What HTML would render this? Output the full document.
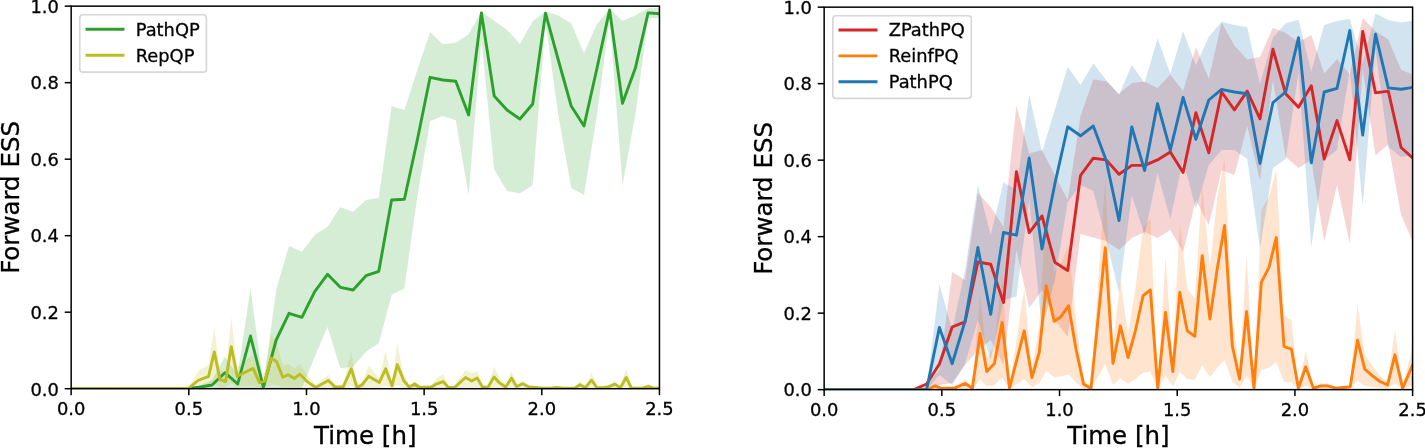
<!DOCTYPE html>
<html lang="en">
<head>
<meta charset="utf-8">
<title>Forward ESS vs. Time</title>
<style>
html,body{margin:0;padding:0;background:#fff;}
body{width:1425px;height:448px;overflow:hidden;}
svg{display:block;}
svg text{stroke:#000;stroke-width:0.3px;}
</style>
</head>
<body>
<svg width="1425" height="448" viewBox="0 0 1425 448" font-family='"DejaVu Sans", "Liberation Sans", sans-serif' fill="#000">
<defs>
<clipPath id="cl"><rect x="71.15" y="6.15" width="588.30" height="382.55"/></clipPath>
<clipPath id="cr"><rect x="824.15" y="7.15" width="588.45" height="382.50"/></clipPath>
</defs>
<rect width="1425" height="448" fill="#fff"/>
<g>
<polygon points="186.4,388.6 199.2,386.0 212.1,380.0 224.9,356.7 237.7,375.0 250.5,288.3 263.4,385.0 276.2,290.0 289.0,246.0 301.9,251.7 314.7,235.0 327.5,226.7 340.3,207.3 353.1,211.7 366.0,200.0 378.8,197.7 391.6,106.0 404.4,110.0 417.3,70.0 430.1,32.3 442.9,44.3 455.8,42.7 468.6,34.3 481.4,11.7 494.2,20.7 507.0,30.0 519.9,44.0 532.7,21.3 545.5,11.4 558.3,15.6 571.2,23.2 584.0,53.3 596.8,24.3 609.6,9.2 622.5,20.7 635.3,15.5 648.1,8.3 660.9,8.3 660.9,18.0 648.1,18.3 635.3,115.0 622.5,185.0 609.6,19.4 596.8,115.7 584.0,195.0 571.2,188.0 558.3,115.0 545.5,22.0 532.7,185.0 519.9,193.3 507.0,191.0 494.2,169.3 481.4,39.0 468.6,195.0 455.8,120.2 442.9,115.9 430.1,121.0 417.3,196.7 404.4,288.3 391.6,295.0 378.8,343.3 366.0,351.7 353.1,366.7 340.3,368.3 327.5,326.7 314.7,356.7 301.9,388.6 289.0,388.6 276.2,388.6 263.4,388.6 250.5,388.6 237.7,388.6 224.9,388.6 212.1,388.6 199.2,388.6 186.4,388.6" fill="#2ca02c" fill-opacity="0.2" clip-path="url(#cl)"/>
<polygon points="188.5,387.7 198.0,371.4 208.6,365.0 214.3,326.4 219.9,370.3 225.6,372.4 231.3,317.3 237.2,367.8 253.1,354.5 259.5,376.7 264.8,372.4 271.2,334.3 276.5,342.6 282.8,366.1 288.1,364.0 294.5,368.2 299.8,364.2 307.2,374.6 315.7,385.2 328.4,374.6 334.8,385.2 343.2,384.1 351.3,352.3 357.0,385.2 362.3,380.9 368.7,366.1 379.3,377.7 385.6,350.2 392.0,383.0 397.3,343.8 403.7,374.6 409.0,385.2 414.3,382.0 420.0,386.2 414.5,380.7 419.8,386.5 431.5,385.0 436.8,377.9 443.1,374.3 448.5,385.9 454.7,385.4 465.5,370.0 471.7,373.4 477.1,370.7 482.5,385.0 487.8,385.9 494.1,366.2 499.5,377.9 505.7,385.0 511.5,370.9 516.5,384.1 522.7,380.6 529.0,385.4 535.3,385.9 542.4,387.2 551.4,387.7 556.7,386.2 562.1,387.7 574.6,387.2 580.0,381.5 585.4,386.5 591.6,372.5 597.0,386.5 603.3,386.2 608.6,385.0 614.9,380.6 620.3,386.5 626.2,368.6 631.5,387.2 642.6,387.2 648.5,384.1 654.3,387.2 659.3,387.2 659.3,388.2 654.3,388.3 648.5,388.0 642.6,388.2 631.5,388.2 626.2,387.0 620.3,388.2 614.9,387.8 608.6,388.1 603.3,388.2 597.0,388.2 591.6,387.3 585.4,388.2 580.0,387.8 574.6,388.3 562.1,388.3 556.7,388.2 551.4,388.3 542.4,388.3 535.3,388.2 529.0,388.1 522.7,387.7 516.5,388.0 511.5,387.0 505.7,388.1 499.5,387.6 494.1,386.9 487.8,388.2 482.5,388.1 477.1,387.0 471.7,387.4 465.5,387.0 454.7,388.2 448.5,388.2 443.1,387.5 436.8,387.7 431.5,388.1 419.8,388.2 414.5,387.7 420.0,388.2 414.3,387.9 409.0,388.2 403.7,387.4 397.3,385.5 392.0,388.0 385.6,386.0 379.3,387.7 368.7,386.9 362.3,387.9 357.0,388.2 351.3,386.0 343.2,388.2 334.8,388.2 328.4,387.4 315.7,388.2 307.2,387.5 299.8,386.6 294.5,387.1 288.1,386.7 282.8,387.0 276.5,385.1 271.2,384.7 264.8,387.5 259.5,387.7 253.1,386.0 237.2,386.9 231.3,383.3 225.6,387.5 219.9,387.3 214.3,384.0 208.6,386.9 198.0,387.4 188.5,388.3" fill="#bcbd22" fill-opacity="0.2" clip-path="url(#cl)"/>
<polyline points="71.0,388.6 186.4,388.6 199.2,387.3 212.1,385.0 224.9,372.7 237.7,384.0 250.5,336.0 263.4,387.3 276.2,340.0 289.0,313.3 301.9,317.3 314.7,291.7 327.5,274.3 340.3,287.3 353.1,290.0 366.0,275.7 378.8,271.3 391.6,200.0 404.4,199.3 417.3,140.0 430.1,77.3 442.9,80.0 455.8,81.3 468.6,115.0 481.4,13.0 494.2,96.0 507.0,110.0 519.9,119.0 532.7,104.0 545.5,13.1 558.3,60.0 571.2,106.0 584.0,126.0 596.8,69.0 609.6,9.9 622.5,103.3 635.3,68.3 648.1,12.9 660.9,13.8" fill="none" stroke="#2ca02c" stroke-width="2.9" stroke-linejoin="round" stroke-linecap="square" clip-path="url(#cl)"/>
<polyline points="71.0,388.6 188.5,388.3 198.0,380.5 208.6,376.3 214.3,351.9 219.9,379.4 225.6,381.6 231.3,346.6 237.2,376.3 253.1,368.4 259.5,382.6 264.8,381.1 271.2,358.2 276.5,361.4 282.8,377.3 288.1,374.8 294.5,378.4 299.8,374.1 307.2,381.6 315.7,387.5 328.4,380.5 334.8,386.9 343.2,386.9 351.3,368.8 357.0,387.5 362.3,384.7 368.7,376.3 379.3,382.6 385.6,368.8 392.0,385.8 397.3,364.6 403.7,380.5 409.0,386.9 414.3,384.7 420.0,387.5 414.5,383.8 419.8,387.4 431.5,387.0 436.8,383.8 443.1,381.6 448.5,387.4 454.7,387.4 465.5,377.5 471.7,381.1 477.1,378.1 482.5,387.0 487.8,387.4 494.1,377.0 499.5,382.9 505.7,387.0 511.5,378.1 516.5,386.5 522.7,383.8 529.0,387.0 535.3,387.4 542.4,388.3 551.4,388.3 556.7,387.4 562.1,388.3 574.6,388.3 580.0,384.7 585.4,387.7 591.6,380.2 597.0,387.7 603.3,387.4 608.6,387.0 614.9,384.1 620.3,387.7 626.2,377.5 631.5,388.1 642.6,388.1 648.5,386.3 654.3,388.3 659.3,388.1" fill="none" stroke="#bcbd22" stroke-width="2.9" stroke-linejoin="round" stroke-linecap="square" clip-path="url(#cl)"/>
<line x1="71.15" y1="388.70" x2="71.15" y2="395.15" stroke="#000" stroke-width="1.5"/>
<text x="71.15" y="414.55" font-size="17.9" text-anchor="middle">0.0</text>
<line x1="188.81" y1="388.70" x2="188.81" y2="395.15" stroke="#000" stroke-width="1.5"/>
<text x="188.81" y="414.55" font-size="17.9" text-anchor="middle">0.5</text>
<line x1="306.47" y1="388.70" x2="306.47" y2="395.15" stroke="#000" stroke-width="1.5"/>
<text x="306.47" y="414.55" font-size="17.9" text-anchor="middle">1.0</text>
<line x1="424.13" y1="388.70" x2="424.13" y2="395.15" stroke="#000" stroke-width="1.5"/>
<text x="424.13" y="414.55" font-size="17.9" text-anchor="middle">1.5</text>
<line x1="541.79" y1="388.70" x2="541.79" y2="395.15" stroke="#000" stroke-width="1.5"/>
<text x="541.79" y="414.55" font-size="17.9" text-anchor="middle">2.0</text>
<line x1="659.45" y1="388.70" x2="659.45" y2="395.15" stroke="#000" stroke-width="1.5"/>
<text x="659.45" y="414.55" font-size="17.9" text-anchor="middle">2.5</text>
<line x1="64.70" y1="388.70" x2="71.15" y2="388.70" stroke="#000" stroke-width="1.5"/>
<text x="58.85" y="395.50" font-size="17.9" text-anchor="end">0.0</text>
<line x1="64.70" y1="312.19" x2="71.15" y2="312.19" stroke="#000" stroke-width="1.5"/>
<text x="58.85" y="318.99" font-size="17.9" text-anchor="end">0.2</text>
<line x1="64.70" y1="235.68" x2="71.15" y2="235.68" stroke="#000" stroke-width="1.5"/>
<text x="58.85" y="242.48" font-size="17.9" text-anchor="end">0.4</text>
<line x1="64.70" y1="159.17" x2="71.15" y2="159.17" stroke="#000" stroke-width="1.5"/>
<text x="58.85" y="165.97" font-size="17.9" text-anchor="end">0.6</text>
<line x1="64.70" y1="82.66" x2="71.15" y2="82.66" stroke="#000" stroke-width="1.5"/>
<text x="58.85" y="89.46" font-size="17.9" text-anchor="end">0.8</text>
<line x1="64.70" y1="6.15" x2="71.15" y2="6.15" stroke="#000" stroke-width="1.5"/>
<text x="58.85" y="12.95" font-size="17.9" text-anchor="end">1.0</text>
<rect x="71.15" y="6.15" width="588.30" height="382.55" fill="none" stroke="#000" stroke-width="1.5"/>
<text x="365.30" y="443.50" font-size="24.5" text-anchor="middle">Time [h]</text>
<text transform="translate(19.30,197.42) rotate(-90)" font-size="24.5" text-anchor="middle">Forward ESS</text>
<rect x="79.80" y="14.80" width="126.60" height="57.30" rx="3.2" ry="3.2" fill="#fff" fill-opacity="0.8" stroke="#ccc" stroke-opacity="0.8" stroke-width="1.6"/>
<line x1="87.00" y1="29.20" x2="123.00" y2="29.20" stroke="#2ca02c" stroke-width="2.9" stroke-linecap="square"/>
<text x="135.70" y="35.60" font-size="17.85">PathQP</text>
<line x1="87.00" y1="55.30" x2="123.00" y2="55.30" stroke="#bcbd22" stroke-width="2.9" stroke-linecap="square"/>
<text x="135.70" y="61.70" font-size="17.85">RepQP</text>
</g>
<g>
<polygon points="913.8,389.6 926.6,384.0 939.4,370.0 952.2,272.0 965.1,280.0 977.9,193.0 990.7,207.0 1003.5,227.0 1016.4,105.4 1029.2,153.4 1042.0,150.0 1054.8,175.0 1067.7,200.0 1080.5,116.0 1093.3,79.5 1106.2,81.3 1119.0,93.8 1131.8,83.0 1144.6,81.5 1157.5,88.0 1170.3,74.5 1183.1,91.0 1195.9,46.9 1208.8,78.7 1221.6,22.5 1234.4,45.6 1247.2,59.4 1260.0,56.9 1272.9,27.7 1285.7,33.1 1298.5,42.0 1311.3,34.9 1324.2,73.4 1337.0,59.0 1349.8,74.3 1362.7,17.9 1375.5,31.3 1388.3,39.4 1401.1,69.8 1413.9,75.2 1413.9,244.0 1401.1,215.0 1388.3,144.2 1375.5,155.6 1362.7,70.0 1349.8,243.4 1337.0,185.0 1324.2,241.5 1311.3,160.0 1298.5,168.0 1285.7,157.0 1272.9,80.4 1260.0,180.4 1247.2,126.0 1234.4,175.0 1221.6,170.0 1208.8,225.0 1195.9,200.0 1183.1,252.0 1170.3,230.0 1157.5,238.0 1144.6,232.0 1131.8,238.0 1119.0,250.0 1106.2,241.0 1093.3,237.6 1080.5,234.0 1067.7,336.8 1054.8,320.0 1042.0,290.0 1029.2,308.0 1016.4,250.0 1003.5,365.0 990.7,340.0 977.9,350.0 965.1,365.0 952.2,383.0 939.4,385.0 926.6,388.0 913.8,389.6" fill="#d62728" fill-opacity="0.2" clip-path="url(#cr)"/>
<polygon points="928.0,389.5 935.0,383.2 941.7,387.8 955.0,386.6 965.1,379.2 972.4,387.2 980.1,293.0 986.8,358.5 994.4,344.7 1002.1,274.0 1009.5,387.2 1024.2,288.4 1031.9,368.8 1039.2,325.7 1046.2,213.1 1054.2,272.3 1060.9,264.3 1068.6,245.3 1076.3,322.9 1083.6,380.3 1091.0,387.2 1105.3,178.8 1113.0,344.7 1120.4,279.8 1128.0,334.4 1135.4,288.4 1143.1,228.1 1150.4,218.3 1157.8,387.2 1165.5,256.8 1172.8,358.5 1179.8,222.3 1187.2,288.4 1194.8,298.2 1202.2,186.0 1209.9,268.3 1217.2,198.0 1224.6,159.0 1232.3,314.2 1239.6,371.7 1246.6,255.1 1254.0,387.2 1261.3,210.1 1269.0,196.5 1276.3,169.8 1284.0,315.4 1291.4,320.0 1298.4,387.2 1305.7,350.4 1313.4,387.2 1320.8,383.2 1327.4,383.2 1335.8,387.2 1343.1,386.1 1350.2,384.9 1357.5,304.5 1364.8,354.5 1372.5,366.0 1379.9,375.7 1387.6,381.5 1394.9,329.8 1402.6,387.2 1412.9,345.8 1412.9,385.0 1402.6,389.3 1394.9,383.3 1387.6,388.7 1379.9,388.1 1372.5,387.1 1364.8,385.9 1357.5,380.7 1350.2,389.1 1343.1,389.2 1335.8,389.3 1327.4,388.9 1320.8,388.9 1313.4,389.3 1305.7,385.5 1298.4,389.3 1291.4,382.3 1284.0,381.8 1276.3,362.2 1269.0,367.6 1261.3,370.3 1254.0,389.3 1246.6,375.5 1239.6,387.7 1232.3,381.7 1224.6,360.1 1217.2,367.9 1209.9,376.9 1202.2,365.5 1194.8,380.0 1187.2,379.0 1179.8,372.1 1172.8,386.3 1165.5,375.7 1157.8,389.3 1150.4,371.7 1143.1,372.7 1135.4,379.0 1128.0,383.8 1120.4,378.1 1113.0,384.9 1105.3,364.0 1091.0,389.3 1083.6,388.6 1076.3,382.6 1068.6,374.5 1060.9,376.5 1054.2,377.3 1046.2,370.9 1039.2,382.9 1031.9,387.4 1024.2,379.0 1009.5,389.3 1002.1,377.5 994.4,384.9 986.8,386.3 980.1,379.5 972.4,389.3 965.1,388.5 955.0,389.3 941.7,389.4 935.0,388.9 928.0,389.6" fill="#ff7f0e" fill-opacity="0.2" clip-path="url(#cr)"/>
<polygon points="926.6,389.6 939.4,284.0 952.2,330.0 965.1,270.0 977.9,184.9 990.7,235.0 1003.5,182.2 1016.4,190.0 1029.2,94.7 1042.0,152.0 1054.8,110.0 1067.7,66.8 1080.5,85.0 1093.3,63.5 1106.2,80.0 1119.0,95.0 1131.8,65.0 1144.6,83.0 1157.5,38.5 1170.3,73.4 1183.1,31.3 1195.9,65.3 1208.8,36.7 1221.6,21.8 1234.4,25.0 1247.2,27.2 1260.0,84.0 1272.9,37.6 1285.7,23.3 1298.5,19.7 1311.3,71.6 1324.2,25.0 1337.0,21.1 1349.8,18.8 1362.7,63.0 1375.5,13.4 1388.3,20.0 1401.1,22.4 1413.9,20.6 1413.9,155.0 1401.1,157.0 1388.3,147.0 1375.5,50.0 1362.7,206.0 1349.8,70.0 1337.0,150.0 1324.2,160.0 1311.3,247.0 1298.5,73.0 1285.7,159.0 1272.9,168.0 1260.0,248.5 1247.2,159.0 1234.4,150.0 1221.6,150.0 1208.8,165.0 1195.9,209.0 1183.1,160.0 1170.3,218.9 1157.5,173.0 1144.6,235.0 1131.8,195.6 1119.0,293.0 1106.2,240.0 1093.3,191.0 1080.5,185.0 1067.7,202.0 1054.8,280.0 1042.0,330.0 1029.2,200.0 1016.4,296.4 1003.5,300.0 990.7,360.0 977.9,320.0 965.1,363.5 952.2,385.0 939.4,375.0 926.6,389.6" fill="#1f77b4" fill-opacity="0.2" clip-path="url(#cr)"/>
<polyline points="824.0,389.6 913.8,389.6 926.6,384.0 939.4,364.0 952.2,327.0 965.1,321.8 977.9,262.0 990.7,264.2 1003.5,302.6 1016.4,171.6 1029.2,232.6 1042.0,216.0 1054.8,262.2 1067.7,270.5 1080.5,175.5 1093.3,158.2 1106.2,159.9 1119.0,174.3 1131.8,165.4 1144.6,165.4 1157.5,159.9 1170.3,152.0 1183.1,172.4 1195.9,112.6 1208.8,152.8 1221.6,92.0 1234.4,109.9 1247.2,91.1 1260.0,118.8 1272.9,49.2 1285.7,93.8 1298.5,107.2 1311.3,85.7 1324.2,159.0 1337.0,120.6 1349.8,159.8 1362.7,31.4 1375.5,92.9 1388.3,91.1 1401.1,147.5 1413.9,159.0" fill="none" stroke="#d62728" stroke-width="2.9" stroke-linejoin="round" stroke-linecap="square" clip-path="url(#cr)"/>
<polyline points="824.0,389.6 928.0,389.5 935.0,385.9 941.7,388.5 955.0,387.9 965.1,383.5 972.4,388.2 980.1,333.4 986.8,371.5 994.4,363.5 1002.1,322.4 1009.5,388.2 1024.2,330.8 1031.9,377.5 1039.2,352.5 1046.2,285.7 1054.2,321.4 1060.9,316.7 1068.6,305.7 1076.3,350.8 1083.6,384.2 1091.0,388.2 1105.3,247.6 1113.0,363.5 1120.4,325.8 1128.0,357.5 1135.4,330.8 1143.1,295.7 1150.4,290.0 1157.8,388.2 1165.5,312.4 1172.8,371.5 1179.8,292.4 1187.2,330.8 1194.8,336.4 1202.2,255.6 1209.9,319.1 1217.2,269.0 1224.6,225.5 1232.3,345.8 1239.6,379.2 1246.6,311.4 1254.0,388.2 1261.3,282.3 1269.0,267.3 1276.3,237.6 1284.0,346.5 1291.4,349.1 1298.4,388.2 1305.7,366.8 1313.4,388.2 1320.8,385.9 1327.4,385.9 1335.8,388.2 1343.1,387.5 1350.2,386.9 1357.5,340.1 1364.8,369.2 1372.5,375.9 1379.9,381.5 1387.6,384.9 1394.9,354.8 1402.6,388.2 1412.9,364.2" fill="none" stroke="#ff7f0e" stroke-width="2.9" stroke-linejoin="round" stroke-linecap="square" clip-path="url(#cr)"/>
<polyline points="824.0,389.6 926.6,389.6 939.4,327.5 952.2,363.7 965.1,321.0 977.9,247.5 990.7,314.3 1003.5,232.5 1016.4,235.2 1029.2,158.0 1042.0,249.0 1054.8,184.0 1067.7,126.8 1080.5,135.8 1093.3,126.0 1106.2,160.5 1119.0,220.5 1131.8,126.9 1144.6,170.5 1157.5,103.6 1170.3,150.2 1183.1,97.4 1195.9,139.4 1208.8,100.0 1221.6,89.3 1234.4,92.0 1247.2,93.8 1260.0,163.4 1272.9,102.7 1285.7,92.0 1298.5,37.7 1311.3,162.9 1324.2,92.0 1337.0,88.4 1349.8,30.5 1362.7,135.0 1375.5,34.2 1388.3,87.9 1401.1,89.3 1413.9,87.2" fill="none" stroke="#1f77b4" stroke-width="2.9" stroke-linejoin="round" stroke-linecap="square" clip-path="url(#cr)"/>
<line x1="824.15" y1="389.65" x2="824.15" y2="396.10" stroke="#000" stroke-width="1.5"/>
<text x="824.15" y="415.50" font-size="17.9" text-anchor="middle">0.0</text>
<line x1="941.84" y1="389.65" x2="941.84" y2="396.10" stroke="#000" stroke-width="1.5"/>
<text x="941.84" y="415.50" font-size="17.9" text-anchor="middle">0.5</text>
<line x1="1059.53" y1="389.65" x2="1059.53" y2="396.10" stroke="#000" stroke-width="1.5"/>
<text x="1059.53" y="415.50" font-size="17.9" text-anchor="middle">1.0</text>
<line x1="1177.22" y1="389.65" x2="1177.22" y2="396.10" stroke="#000" stroke-width="1.5"/>
<text x="1177.22" y="415.50" font-size="17.9" text-anchor="middle">1.5</text>
<line x1="1294.91" y1="389.65" x2="1294.91" y2="396.10" stroke="#000" stroke-width="1.5"/>
<text x="1294.91" y="415.50" font-size="17.9" text-anchor="middle">2.0</text>
<line x1="1412.60" y1="389.65" x2="1412.60" y2="396.10" stroke="#000" stroke-width="1.5"/>
<text x="1412.60" y="415.50" font-size="17.9" text-anchor="middle">2.5</text>
<line x1="817.70" y1="389.65" x2="824.15" y2="389.65" stroke="#000" stroke-width="1.5"/>
<text x="811.85" y="396.45" font-size="17.9" text-anchor="end">0.0</text>
<line x1="817.70" y1="313.15" x2="824.15" y2="313.15" stroke="#000" stroke-width="1.5"/>
<text x="811.85" y="319.95" font-size="17.9" text-anchor="end">0.2</text>
<line x1="817.70" y1="236.65" x2="824.15" y2="236.65" stroke="#000" stroke-width="1.5"/>
<text x="811.85" y="243.45" font-size="17.9" text-anchor="end">0.4</text>
<line x1="817.70" y1="160.15" x2="824.15" y2="160.15" stroke="#000" stroke-width="1.5"/>
<text x="811.85" y="166.95" font-size="17.9" text-anchor="end">0.6</text>
<line x1="817.70" y1="83.65" x2="824.15" y2="83.65" stroke="#000" stroke-width="1.5"/>
<text x="811.85" y="90.45" font-size="17.9" text-anchor="end">0.8</text>
<line x1="817.70" y1="7.15" x2="824.15" y2="7.15" stroke="#000" stroke-width="1.5"/>
<text x="811.85" y="13.95" font-size="17.9" text-anchor="end">1.0</text>
<rect x="824.15" y="7.15" width="588.45" height="382.50" fill="none" stroke="#000" stroke-width="1.5"/>
<text x="1118.38" y="444.30" font-size="24.5" text-anchor="middle">Time [h]</text>
<text transform="translate(772.30,198.40) rotate(-90)" font-size="24.5" text-anchor="middle">Forward ESS</text>
<rect x="832.80" y="15.80" width="138.50" height="82.60" rx="3.2" ry="3.2" fill="#fff" fill-opacity="0.8" stroke="#ccc" stroke-opacity="0.8" stroke-width="1.6"/>
<line x1="840.00" y1="30.00" x2="876.00" y2="30.00" stroke="#d62728" stroke-width="2.9" stroke-linecap="square"/>
<text x="888.70" y="36.40" font-size="17.85">ZPathPQ</text>
<line x1="840.00" y1="55.90" x2="876.00" y2="55.90" stroke="#ff7f0e" stroke-width="2.9" stroke-linecap="square"/>
<text x="888.70" y="62.30" font-size="17.85">ReinfPQ</text>
<line x1="840.00" y1="81.80" x2="876.00" y2="81.80" stroke="#1f77b4" stroke-width="2.9" stroke-linecap="square"/>
<text x="888.70" y="88.20" font-size="17.85">PathPQ</text>
</g>
</svg>
</body>
</html>
